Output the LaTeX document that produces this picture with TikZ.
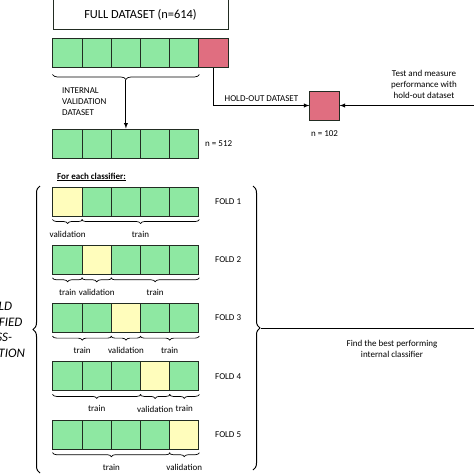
\documentclass[tikz,border=0pt]{standalone}
\usepackage{fontspec}
\setmainfont{Carlito}
\usetikzlibrary{arrows,calc,decorations.pathreplacing}
\definecolor{cellgreen}{RGB}{142,232,162}
\definecolor{valyellow}{RGB}{255,253,188}
\definecolor{holdred}{RGB}{224,110,128}
\definecolor{edgedark}{RGB}{34,44,34}

\begin{document}
\begin{tikzpicture}[x=1pt,y=-1pt,>=latex]
	\tikzstyle{cell} = [draw=edgedark, line width=1pt, rectangle, minimum width=29.2pt, minimum height=29pt, inner sep=0, fill=cellgreen];
	\tikzstyle{full_box} = [draw=edgedark, line width=1pt, rectangle, minimum width=175pt, minimum height=42pt, inner sep=0];
	\tikzstyle{small_txt} = [font=\fontsize{9}{11}\selectfont, inner sep=1pt, align=center];
	\tikzstyle{fbrace} = [decorate, decoration={brace, mirror, amplitude=4pt, raise=3pt}, line width=0.7pt];
	\tikzstyle{blbl} = [midway, below=13pt, font=\fontsize{9}{10}\selectfont, inner sep=1pt];
	\tikzstyle{big_brace} = [decorate, decoration={brace, amplitude=7pt}, line width=1pt];
	\useasboundingbox[fill=white] (0,0) rectangle (474,474);

	% full dataset and hold-out split
	\node[full_box] (full) at (140.5,8) {};
	\node[font=\fontsize{12.4}{14}\selectfont] (fulltxt) at (140.5,15) {FULL DATASET (n=614)};
	\foreach \i in {1,...,5}
		\node[cell] (r1c\i) at (38.42+29.17*\i,52.5) {};
	\node[cell, fill=holdred] (r1c6) at (38.42+29.17*6,52.5) {};
	\foreach \i in {1,...,5}
		\node[cell] (r2c\i) at (38.42+29.17*\i,143.5) {};
	\node[small_txt, anchor=west] (n512) at (204,143.5) {n = 512};

	\draw[fbrace, decoration={amplitude=5pt, raise=7pt}] (r1c1.south west) -- (r1c5.south east);
	\coordinate (bracetip) at ($(r1c3.south)+(0,12.5)$);
	\draw[->, line width=0.9pt] (bracetip) -- (r2c3.north);
	\node[small_txt, anchor=north west, align=left] (intval) at (61,87) {INTERNAL\\VALIDATION\\DATASET};

	\node[cell, fill=holdred] (hold) at (324.5,105.5) {};
	\node[small_txt] (n102) at (324.5,134) {n = 102};
	\draw[->, line width=0.9pt] (r1c6.south) |- (hold.west) node[small_txt, pos=0.75, above=2pt] (holdlbl) {HOLD-OUT DATASET};
	\coordinate (testin) at (480,105.5);
	\draw[->, line width=0.9pt] (testin) -- (hold.east);
	\node[small_txt] (testtxt) at (424,84) {Test and measure\\performance with\\hold-out dataset};

	% cross-validation folds
	\node[font=\fontsize{9}{10}\selectfont\bfseries, anchor=west, inner sep=0] (foreach) at (57,177) {\underline{For each classifier:}};
	\foreach \k in {1,...,5}{
		\foreach \i in {1,...,5}{
			\ifnum\i=\k \def\cfill{valyellow}\else\def\cfill{cellgreen}\fi
			\node[cell, fill=\cfill] (f\k-\i) at (38.42+29.17*\i,143.2+58.3*\k) {};
		}
		\node[small_txt, anchor=west] (fold\k) at (214,143.2+58.3*\k) {FOLD \k};
	}

	\draw[fbrace] (f1-1.south west) -- (f1-1.south east) node[blbl] {validation};
	\draw[fbrace] (f1-2.south west) -- (f1-5.south east) node[blbl] {train};
	\draw[fbrace] (f2-1.south west) -- (f2-1.south east) node[blbl] {train};
	\draw[fbrace] (f2-2.south west) -- (f2-2.south east) node[blbl] {validation};
	\draw[fbrace] (f2-3.south west) -- (f2-5.south east) node[blbl] {train};
	\draw[fbrace] (f3-1.south west) -- (f3-2.south east) node[blbl] {train};
	\draw[fbrace] (f3-3.south west) -- (f3-3.south east) node[blbl] {validation};
	\draw[fbrace] (f3-4.south west) -- (f3-5.south east) node[blbl] {train};
	\draw[fbrace] (f4-1.south west) -- (f4-3.south east) node[blbl] {train};
	\draw[fbrace] (f4-4.south west) -- (f4-4.south east) node[blbl] {validation};
	\draw[fbrace] (f4-5.south west) -- (f4-5.south east) node[blbl] {train};
	\draw[fbrace] (f5-1.south west) -- (f5-4.south east) node[blbl] {train};
	\draw[fbrace] (f5-5.south west) -- (f5-5.south east) node[blbl] {validation};

	% outer braces
	\coordinate (lbot) at (40,473);
	\coordinate (ltop) at (40,186);
	\draw[big_brace] (lbot) -- (ltop);
	\node[font=\fontsize{13}{15.5}\selectfont\itshape, align=center] (kfold) at (-7,330) {5-FOLD\\STRATIFIED\\CROSS-\\VALIDATION};

	\coordinate (rtop) at (253,186);
	\coordinate (rbot) at (253,470);
	\draw[big_brace] (rtop) -- (rbot);
	\coordinate (rtip) at (261,328);
	\coordinate (bestout) at (480,328);
	\draw[line width=0.9pt] (rtip) -- (bestout);
	\node[small_txt] (besttxt) at (392,349) {Find the best performing\\internal classifier};
\end{tikzpicture}
\end{document}
